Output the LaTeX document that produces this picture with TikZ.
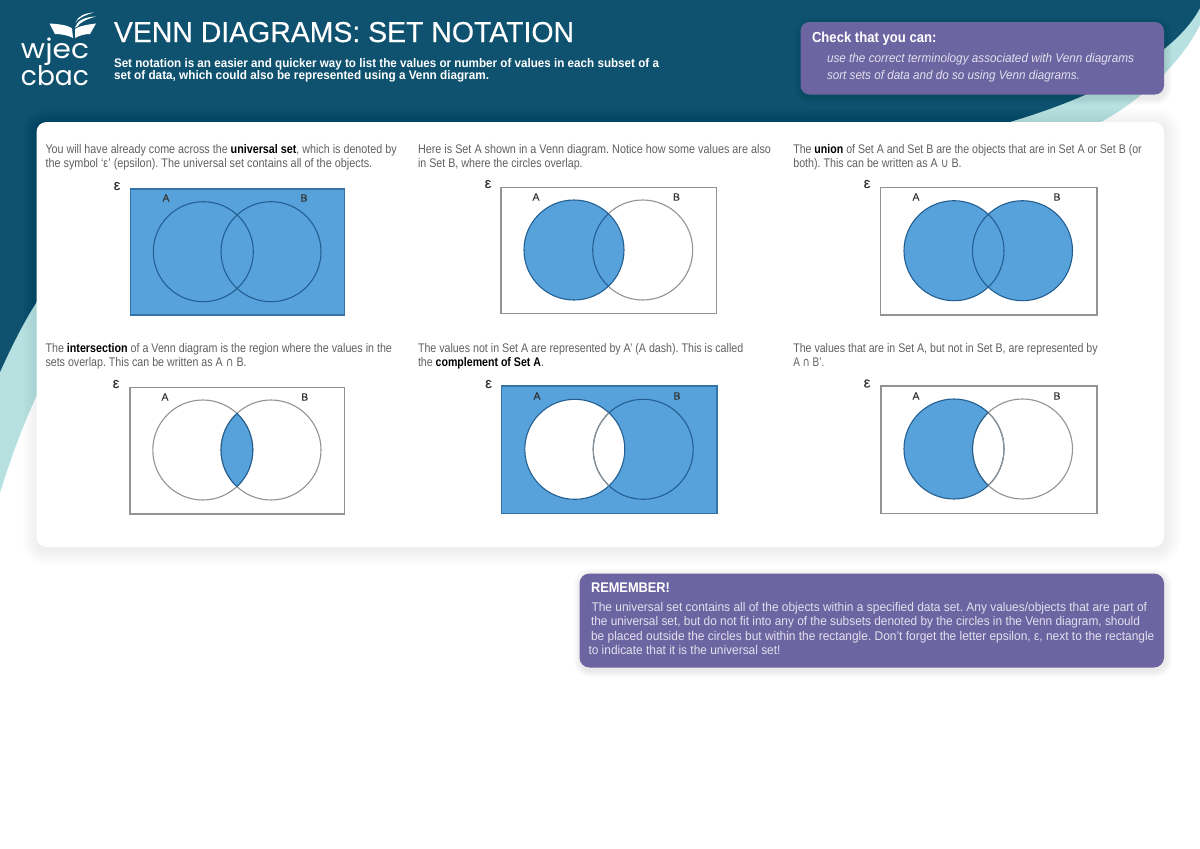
\documentclass[tikz,border=0pt]{standalone}
\usepackage{fontspec}
\usepackage{graphicx}
\setmainfont{Liberation Sans}
\newfontfamily\djv{DejaVu Sans}
\newfontfamily\logofont{Poppins}
\newfontfamily\titlefont[FakeBold=0.35]{Liberation Sans}
\newfontfamily\labfont[FakeBold=0.12]{Liberation Sans}
\frenchspacing
\definecolor{darkteal}{HTML}{0F5270}
\definecolor{lightteal}{HTML}{B7E1E1}
\definecolor{purplebox}{HTML}{6C65A1}
\definecolor{vennblue}{HTML}{57A2DB}
\definecolor{blueline}{HTML}{245F92}
\definecolor{grayline}{HTML}{939393}
\definecolor{bodytext}{HTML}{606060}
\definecolor{softtext}{HTML}{E2E0EE}
\tikzset{
  x=1pt,y=-1pt,
  tl/.style={anchor=base west,inner sep=0pt,outer sep=0pt},
  lab/.style={inner sep=0pt,outer sep=0pt,text=black!80,font=\labfont\fontsize{10.5}{11}\selectfont},
  eps/.style={inner sep=0pt,outer sep=0pt,text=black!80,font=\labfont\fontsize{15}{15}\selectfont},
  uni/.style={draw=grayline,line width=1.2pt},
  ring/.style={draw=grayline,line width=1.1pt},
  ringd/.style={draw=blueline,line width=1.1pt},
}
\newcommand{\tline}[6]{\node[tl,text=#6] (#1) at (#2,#3) {\resizebox{\dimexpr#4pt-#2pt\relax}{\height}{#5}};}
\newcommand{\bodyf}{\fontsize{12.5}{14}\selectfont}
\newcommand{\softf}{\fontsize{12.6}{14}\selectfont}
\newcommand{\venncoords}[3]{\coordinate (ca) at (#1,#3);\coordinate (cb) at (#2,#3);}
\newcommand{\softshadow}[7]{% x1 y1 x2 y2 radius steps opacity
  \foreach \i in {1,...,#6}{
    \fill[black,opacity=#7,rounded corners=#5pt+\i pt]
      (#1-\i+1,#2-\i+2) rectangle (#3+\i+1,#4+\i+3);
  }}
\begin{document}
\begin{tikzpicture}
\useasboundingbox (0,0) rectangle (1200,849);
\fill[white] (0,0) rectangle (1200,849);
% header waves
\fill[lightteal] (0,0) -- (1200,0) -- (1200,25) .. controls (1180,65) and (1140,100) .. (1103,121)
  .. controls (900,230) and (100,260) .. (36,397) .. controls (22,428) and (10,460) .. (0,493) -- cycle;
\fill[darkteal] (0,0) -- (1200,0) -- (1200,8) .. controls (1175,55) and (1100,95) .. (1013,121)
  .. controls (700,215) and (110,170) .. (36,303) .. controls (22,325) and (10,350) .. (0,372) -- cycle;
% logo
\fill[white] (49.5,23.5) .. controls (58,24) and (68,25) .. (72,28.5) -- (73,38) .. controls (68,35) and (60,34) .. (55,34) -- cycle;
\fill[white] (96,23.5) .. controls (88,24.5) and (79,26) .. (75,29) -- (75,38) .. controls (80,35) and (86,34) .. (90,34) -- cycle;
\fill[white] (75,27.5) .. controls (77,21) and (84,17) .. (96,16.5) .. controls (87,19) and (80,22) .. (77,27) -- cycle;
\fill[white] (75.5,22.5) .. controls (78,16) and (85,13) .. (94,12.5) .. controls (85,15) and (79,18) .. (75.5,22.5) -- cycle;
\node[anchor=base,inner sep=0pt,text=white,font=\logofont\fontsize{27}{28}\selectfont] (wjec) at (55,58) {\resizebox{68pt}{\height}{wjec}};
\node[anchor=base,inner sep=0pt,text=white,font=\logofont\fontsize{27}{28}\selectfont] (cbac) at (55,85) {\resizebox{68pt}{\height}{cbac}};
% title
\tline{title}{114}{42}{574}{\titlefont\fontsize{28.8}{30}\selectfont VENN DIAGRAMS: SET NOTATION}{white}
\tline{subA}{114}{67.5}{659}{\fontsize{12.4}{14}\selectfont\bfseries Set notation is an easier and quicker way to list the values or number of values in each subset of a}{white}
\tline{subB}{114}{79.5}{489}{\fontsize{12.4}{14}\selectfont\bfseries set of data, which could also be represented using a Venn diagram.}{white}
% check box
\softshadow{800.5}{22}{1164}{94.5}{9}{7}{.012}
\fill[purplebox,rounded corners=9pt] (800.5,22) rectangle (1164,94.5);
\tline{chk}{812}{42}{936.5}{\fontsize{14.5}{16}\selectfont\bfseries Check that you can:}{white}
\tline{chkA}{827}{62}{1134}{\softf\itshape use the correct terminology associated with Venn diagrams}{softtext}
\tline{chkB}{827}{79.5}{1080}{\softf\itshape sort sets of data and do so using Venn diagrams.}{softtext}
% card
\softshadow{36.5}{122}{1164}{547}{10}{16}{.005}
\fill[white,rounded corners=10pt] (36.5,122) rectangle (1164,547);
% text row 1
\tline{ta}{45.5}{153}{396.7}{\bodyf You will have already come across the \textcolor{black}{\textbf{universal set}}, which is denoted by}{bodytext}
\tline{tb}{45.5}{167}{372.3}{\bodyf the symbol ‘ε’ (epsilon). The universal set contains all of the objects.}{bodytext}
\tline{tc}{418}{153}{771}{\bodyf Here is Set A shown in a Venn diagram. Notice how some values are also}{bodytext}
\tline{td}{418}{167}{582.7}{\bodyf in Set B, where the circles overlap.}{bodytext}
\tline{te}{793.3}{153}{1141.7}{\bodyf The \textcolor{black}{\textbf{union}} of Set A and Set B are the objects that are in Set A or Set B (or}{bodytext}
\tline{tf}{793.3}{167}{961.7}{\bodyf both). This can be written as A {\djv ∪} B.}{bodytext}
% text row 2
\tline{tg}{45.5}{352}{392}{\bodyf The \textcolor{black}{\textbf{intersection}} of a Venn diagram is the region where the values in the}{bodytext}
\tline{th}{45.5}{366}{246.7}{\bodyf sets overlap. This can be written as A {\djv ∩} B.}{bodytext}
\tline{ti}{418}{352}{743.3}{\bodyf The values not in Set A are represented by A' (A dash). This is called}{bodytext}
\tline{tj}{418}{366}{544}{\bodyf the \textcolor{black}{\textbf{complement of Set A}}.}{bodytext}
\tline{tk}{793.3}{352}{1097.7}{\bodyf The values that are in Set A, but not in Set B, are represented by}{bodytext}
\tline{tl}{793.3}{366}{824.3}{\bodyf A {\djv ∩} B'.}{bodytext}
% Venn 1: universal set
\fill[vennblue] (130.7,189) rectangle (344.3,315);
\draw[draw=blueline!70!vennblue,line width=1.2pt] (130.7,189) rectangle (344.3,315);
\venncoords{203.3}{271}{251.7}
\draw[ringd] (ca) circle[radius=50];
\draw[ringd] (cb) circle[radius=50];
\node[eps] (e1) at (117,186) {ε};
\node[lab] (a1) at (166,198) {A};
\node[lab] (b1) at (304,198) {B};
% Venn 2: set A
\draw[uni] (501,187.3) rectangle (716.3,313.7);
\venncoords{574}{642.7}{250}
\draw[ring] (cb) circle[radius=50];
\fill[vennblue] (ca) circle[radius=50];
\draw[ringd] (ca) circle[radius=50];
\begin{scope}
\clip (ca) circle[radius=50];
\draw[ringd] (cb) circle[radius=50];
\end{scope}
\node[eps] (e2) at (488,184) {ε};
\node[lab] (a2) at (536,197) {A};
\node[lab] (b2) at (676.5,197) {B};
% Venn 3: union
\draw[uni] (880.7,187.3) rectangle (1097,315);
\venncoords{954}{1022.5}{250.7}
\fill[vennblue] (ca) circle[radius=50];
\fill[vennblue] (cb) circle[radius=50];
\draw[ringd] (ca) circle[radius=50];
\draw[ringd] (cb) circle[radius=50];
\node[eps] (e3) at (867,184) {ε};
\node[lab] (a3) at (916,197) {A};
\node[lab] (b3) at (1057,197) {B};
% Venn 4: intersection
\draw[uni] (130,387.3) rectangle (344.3,514);
\venncoords{202.8}{271}{450}
\draw[ring] (ca) circle[radius=50];
\draw[ring] (cb) circle[radius=50];
\begin{scope}
\clip (ca) circle[radius=50];
\fill[vennblue] (cb) circle[radius=50];
\draw[ringd] (cb) circle[radius=50];
\end{scope}
\begin{scope}
\clip (cb) circle[radius=50];
\draw[ringd] (ca) circle[radius=50];
\end{scope}
\node[eps] (e4) at (116,384) {ε};
\node[lab] (a4) at (165,397) {A};
\node[lab] (b4) at (304.7,397) {B};
% Venn 5: complement
\fill[vennblue] (501.7,386) rectangle (717,513.7);
\draw[draw=blueline!70!vennblue,line width=1.2pt] (501.7,386) rectangle (717,513.7);
\venncoords{574.8}{643.2}{449.3}
\fill[white] (ca) circle[radius=50];
\draw[ringd] (ca) circle[radius=50];
\draw[ringd] (cb) circle[radius=50];
\begin{scope}
\clip (ca) circle[radius=50];
\draw[ring] (cb) circle[radius=50];
\end{scope}
\node[eps] (e5) at (488.5,384) {ε};
\node[lab] (a5) at (537,396) {A};
\node[lab] (b5) at (677,396) {B};
% Venn 6: A and not B
\draw[uni] (881,386) rectangle (1097,513.3);
\venncoords{954}{1022.5}{449}
\fill[vennblue] (ca) circle[radius=50];
\begin{scope}
\clip (ca) circle[radius=50];
\fill[white] (cb) circle[radius=50];
\end{scope}
\draw[ring] (cb) circle[radius=50];
\draw[ringd] (ca) circle[radius=50];
\begin{scope}
\clip (cb) circle[radius=50];
\draw[ring] (ca) circle[radius=50];
\end{scope}
\begin{scope}
\clip (ca) circle[radius=50];
\draw[ringd] (cb) circle[radius=50];
\end{scope}
\node[eps] (e6) at (867,383.5) {ε};
\node[lab] (a6) at (916,396) {A};
\node[lab] (b6) at (1057,396) {B};
% remember box
\softshadow{579.5}{573.5}{1164}{667.5}{10}{7}{.012}
\fill[purplebox,rounded corners=10pt] (579.5,573.5) rectangle (1164,667.5);
\tline{rem}{591}{592}{670}{\fontsize{14}{16}\selectfont\bfseries REMEMBER!}{white}
\tline{remA}{591.5}{611}{1147}{\softf The universal set contains all of the objects within a specified data set. Any values/objects that are part of}{softtext}
\tline{remB}{591}{625.5}{1140}{\softf the universal set, but do not fit into any of the subsets denoted by the circles in the Venn diagram, should}{softtext}
\tline{remC}{591}{640}{1154.4}{\softf be placed outside the circles but within the rectangle. Don’t forget the letter epsilon, ε, next to the rectangle}{softtext}
\tline{remD}{588.5}{654.5}{780.5}{\softf to indicate that it is the universal set!}{softtext}
\end{tikzpicture}
\end{document}
